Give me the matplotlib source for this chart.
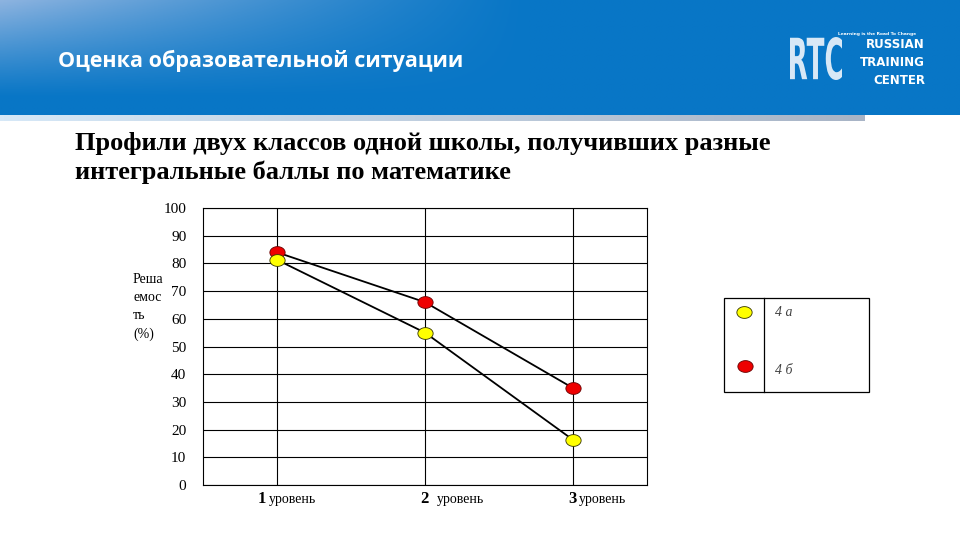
import numpy as np
import matplotlib
matplotlib.use("Agg")
import matplotlib.pyplot as plt
from matplotlib.path import Path
from matplotlib.patches import Rectangle, PathPatch
from matplotlib.lines import Line2D
from matplotlib.textpath import TextPath
from matplotlib.font_manager import FontProperties
from matplotlib.transforms import Affine2D

# данные
levels = ["1", "2", "3"]
level_word = "уровень"
class_a = [81.3, 55, 16.3]   # 4 а (жёлтые)
class_b = [84, 66, 35]       # 4 б (красные)
legend_labels = ["4 а", "4 б"]
y_ticks = list(range(0, 101, 10))

title = "Оценка образовательной ситуации"
subtitle = "Профили двух классов одной школы, получивших разные\nинтегральные баллы по математике"
ylabel = "Реша\nемос\nть\n(%)"

serif = ["Liberation Serif", "DejaVu Serif"]

fig = plt.figure(figsize=(9.6, 5.4), dpi=100)

# шапка с градиентом
hdr = fig.add_axes([0, 1 - 115 / 540, 1, 115 / 540])
xx = np.linspace(0, 1, 400)
yy = np.linspace(0, 1, 80)   # 0 = верх
X, Y = np.meshgrid(xx, yy)
t = np.clip(1 - X / 0.55, 0, 1) ** 1.2 * np.clip(1 - Y / 0.85, 0, 1) ** 1.1
c0 = np.array([0x08, 0x76, 0xc6]) / 255
c1 = np.array([0x8e, 0xb4, 0xe0]) / 255
img = c0[None, None, :] * (1 - t[..., None]) + c1[None, None, :] * t[..., None]
hdr.imshow(img, extent=[0, 1, 0, 1], aspect="auto", origin="upper")
hdr.set_xlim(0, 1)
hdr.set_ylim(0, 1)
hdr.axis("off")

# светлая полоса под шапкой
strip = fig.add_axes([0, 1 - 121 / 540, 865 / 960, 6 / 540])
sx = np.linspace(0, 1, 200)
sc0 = np.array([0xd6, 0xe8, 0xf7]) / 255
sc1 = np.array([0xa8, 0xb4, 0xc6]) / 255
simg = sc0[None, None, :] * (1 - sx[None, :, None]) + sc1[None, None, :] * sx[None, :, None]
strip.imshow(simg, extent=[0, 1, 0, 1], aspect="auto")
strip.axis("off")

fig.text(58 / 960, 1 - 61 / 540, title, color="white", fontsize=15.5, fontweight="bold",
         family="Open Sans", va="center", ha="left")

# логотип: узкие высокие буквы RTC
over = fig.add_axes([0, 0, 1, 1], facecolor="none")
over.set_xlim(0, 960)
over.set_ylim(0, 540)
over.axis("off")
tp = TextPath((0, 0), "RTC", size=10, prop=FontProperties(family="DejaVu Sans", weight="bold"))
ext = tp.get_extents()
sxl = 52 / ext.width
syl = 43 / ext.height
tr = Affine2D().translate(-ext.x0, -ext.y0).scale(sxl, syl).translate(790, 540 - 80)
over.add_patch(PathPatch(tr.transform_path(tp), fc="#d8e8f6", ec="none"))
over.text(838, 540 - 34, "Learning is the Road To Change", color="white",
          fontsize=3.2, fontweight="bold", va="center", ha="left")
for i, w in enumerate(["RUSSIAN", "TRAINING", "CENTER"]):
    over.text(925, 540 - (45 + i * 17.5), w, color="white", fontsize=8.5,
              fontweight="bold", family="DejaVu Sans", va="center", ha="right")

fig.text(75 / 960, 1 - 158 / 540, subtitle, fontsize=19, fontweight="bold", family=serif,
         va="center", ha="left", linespacing=1.35)

# график
ax = fig.add_axes([203 / 960, 55 / 540, 444 / 960, 277 / 540])
xpos = [0.5, 1.5, 2.5]

theta = np.linspace(0, 2 * np.pi, 60)
ell = Path(np.column_stack([1.3 * np.cos(theta), np.sin(theta)]), closed=True)

ax.plot(xpos, class_b, color="black", lw=1.3, marker=ell, ms=11, mfc="#ee0000",
        mec="#660000", mew=0.6, zorder=3)
ax.plot(xpos, class_a, color="black", lw=1.3, marker=ell, ms=11, mfc="#ffff00",
        mec="#333300", mew=0.6, zorder=3)

ax.set_xlim(0, 3)
ax.set_ylim(0, 100)
ax.set_yticks(y_ticks)
ax.set_xticks(xpos)
ax.set_xticklabels([])
ax.tick_params(axis="both", length=0, pad=12)
for lab in ax.get_yticklabels():
    lab.set_family(serif)
    lab.set_fontsize(11)
ax.grid(True, color="black", lw=0.8)
ax.set_axisbelow(True)
for s in ax.spines.values():
    s.set_linewidth(0.8)
    s.set_color("black")

# подписи уровней (цифра жирная, слово мельче)
num_px = [258, 420, 568]
word_px = [269, 437, 579]
for lv, npx, wpx in zip(levels, num_px, word_px):
    fig.text(npx / 960, 1 - 499 / 540, lv, fontsize=12, fontweight="bold", family=serif,
             ha="left", va="center")
    fig.text(wpx / 960, 1 - 500 / 540, level_word, fontsize=10, family=serif,
             ha="left", va="center")

fig.text(133 / 960, 1 - 307 / 540, ylabel, fontsize=10, family=serif, va="center",
         ha="left", linespacing=1.5)

# легенда в рамке
fig.patches.append(Rectangle((724 / 960, 1 - 392 / 540), 145 / 960, 94 / 540,
                             transform=fig.transFigure, fill=False, ec="black", lw=0.9))
fig.lines.append(Line2D([764 / 960, 764 / 960], [1 - 392 / 540, 1 - 298 / 540],
                        transform=fig.transFigure, color="black", lw=0.9))
fig.lines.append(Line2D([744 / 960], [1 - 312 / 540], transform=fig.transFigure,
                        marker=ell, ms=11, mfc="#ffff00", mec="#333300", mew=0.6))
fig.lines.append(Line2D([745 / 960], [1 - 366 / 540], transform=fig.transFigure,
                        marker=ell, ms=11, mfc="#ee0000", mec="#660000", mew=0.6))
fig.text(775 / 960, 1 - 313 / 540, legend_labels[0], fontsize=10, family=serif,
         style="italic", color="#444444", va="center", ha="left")
fig.text(775 / 960, 1 - 370 / 540, legend_labels[1], fontsize=10, family=serif,
         style="italic", color="#444444", va="center", ha="left")

fig.savefig("out.png", dpi=100)
